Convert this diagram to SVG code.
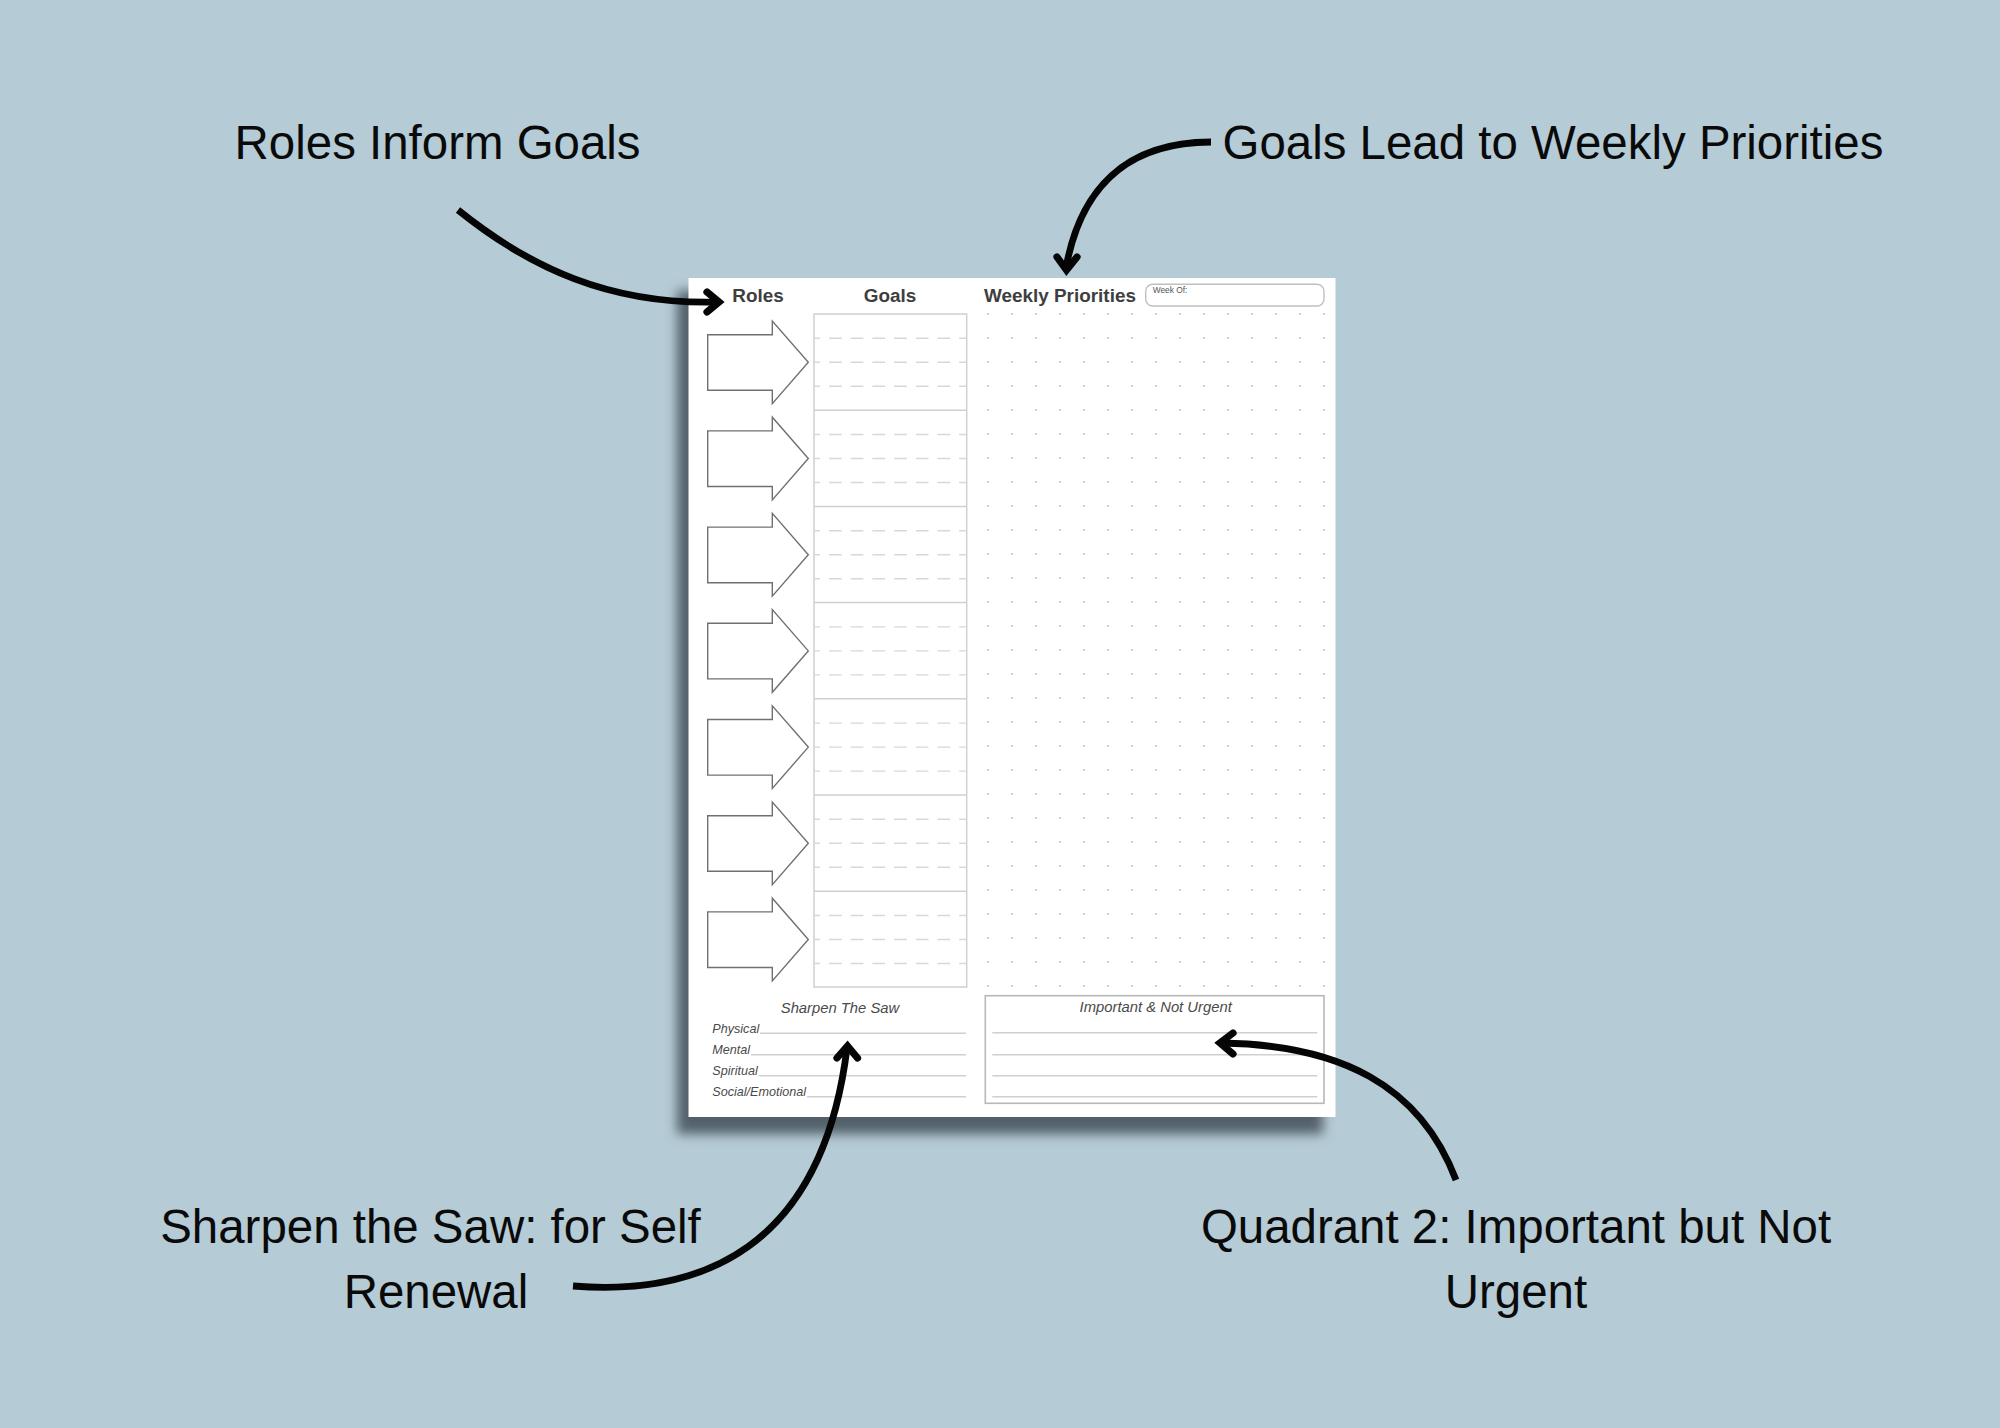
<svg xmlns="http://www.w3.org/2000/svg" xmlns:xlink="http://www.w3.org/1999/xlink" width="2000" height="1428" viewBox="0 0 2000 1428">
<style>
text{font-family:"Liberation Sans",Arial,sans-serif}
.big{font-size:47.45px;fill:#0a0a0a}
.head{font-size:18.9px;font-weight:700;fill:#3e3e3e}
.sub{font-size:14.8px;font-style:italic;fill:#4a4a4a}
.lab{font-size:12.6px;font-style:italic;fill:#4a4a4a}
.rule{stroke:#d0d0d0;stroke-width:1.4;fill:none}
.box{stroke:#d0d0d0;stroke-width:1.5;fill:none}
.dash{stroke:#d8d8d8;stroke-width:1.4;fill:none;stroke-dasharray:12.7 9;stroke-dashoffset:6.7}
.role{fill:#fff;stroke:#707070;stroke-width:1.4}
.conn{fill:none;stroke:#050505;stroke-width:6.8;stroke-linecap:butt}
.head-a{fill:none;stroke:#050505;stroke-width:7.2;stroke-linecap:round;stroke-linejoin:miter}
</style>
<defs>
<filter id="soft" x="-10%" y="-10%" width="120%" height="120%"><feGaussianBlur stdDeviation="6"/></filter>
<pattern id="dots" patternUnits="userSpaceOnUse" x="976" y="302" width="24" height="24"><circle cx="12" cy="12" r="1" fill="#c0c0c0"/></pattern>
<polygon id="roleArrow" class="role" points="707.7,334.7 772.3,334.7 772.3,321 808.3,362.3 772.3,403.7 772.3,390.3 707.7,390.3"/>
<g id="goalDashes"><path class="dash" d="M814 338.3H966.7"/><path class="dash" d="M814 362.3H966.7"/><path class="dash" d="M814 386.3H966.7"/></g>
</defs>
<rect id="background" width="2000" height="1428" fill="#b5cbd6"/>
<rect id="page-shadow" x="677" y="291" width="646" height="843" fill="#52616a" filter="url(#soft)"/>
<rect id="page" x="688.5" y="278" width="647" height="839" fill="#fff"/>

<g id="roles-column">
<text class="head" x="758" y="302.3" text-anchor="middle">Roles</text>
<use xlink:href="#roleArrow" href="#roleArrow"/>
<use xlink:href="#roleArrow" href="#roleArrow" y="96.2"/>
<use xlink:href="#roleArrow" href="#roleArrow" y="192.4"/>
<use xlink:href="#roleArrow" href="#roleArrow" y="288.6"/>
<use xlink:href="#roleArrow" href="#roleArrow" y="384.8"/>
<use xlink:href="#roleArrow" href="#roleArrow" y="481"/>
<use xlink:href="#roleArrow" href="#roleArrow" y="577.2"/>
</g>

<g id="goals-column">
<text class="head" x="890" y="302.3" text-anchor="middle">Goals</text>
<rect class="box" x="814" y="314" width="152.7" height="673"/>
<path class="box" d="M814 410.2H966.7M814 506.4H966.7M814 602.6H966.7M814 698.8H966.7M814 795H966.7M814 891.2H966.7"/>
<use xlink:href="#goalDashes" href="#goalDashes"/>
<use xlink:href="#goalDashes" href="#goalDashes" y="96.2"/>
<use xlink:href="#goalDashes" href="#goalDashes" y="192.4"/>
<use xlink:href="#goalDashes" href="#goalDashes" y="288.6"/>
<use xlink:href="#goalDashes" href="#goalDashes" y="384.8"/>
<use xlink:href="#goalDashes" href="#goalDashes" y="481"/>
<use xlink:href="#goalDashes" href="#goalDashes" y="577.2"/>
</g>

<g id="weekly-priorities">
<text class="head" x="984" y="302.3">Weekly Priorities</text>
<rect x="1145.7" y="284.3" width="178.3" height="21.7" rx="7" fill="#fff" stroke="#c0c0c0" stroke-width="1.4"/>
<text x="1152.7" y="293.4" font-size="8.4" fill="#555">Week Of:</text>
<rect x="982" y="308" width="348" height="684" fill="url(#dots)"/>
</g>

<g id="sharpen-the-saw">
<text class="sub" x="840" y="1012.6" text-anchor="middle">Sharpen The Saw</text>
<text class="lab" x="712.3" y="1033.4">Physical</text>
<text class="lab" x="712.3" y="1054.4">Mental</text>
<text class="lab" x="712.3" y="1075.4">Spiritual</text>
<text class="lab" x="712.3" y="1096.4">Social/Emotional</text>
<path class="rule" d="M760 1033.3H966M751 1054.7H966M758.7 1075.7H966M807 1096.7H966"/>
</g>

<g id="important-not-urgent">
<rect x="985.3" y="995.7" width="338.7" height="107.6" fill="#fff" stroke="#b8b8b8" stroke-width="1.6"/>
<text class="sub" x="1155.7" y="1012.4" text-anchor="middle">Important &amp; Not Urgent</text>
<path class="rule" d="M992.3 1032.7H1317.3M992.3 1054.7H1317.3M992.3 1075.7H1317.3M992.3 1096.7H1317.3"/>
</g>

<g id="connectors">
<path class="conn" d="M458 210C530 268 610 305 718 302"/>
<path class="head-a" d="M707 292L719 302L707 312"/>
<path class="conn" d="M1211 142C1125 142 1080 190 1066 268"/>
<path class="head-a" d="M1057 257L1066.5 270L1077 257"/>
<path class="conn" d="M573 1286C700 1296 822 1250 847 1048"/>
<path class="head-a" d="M837 1058L847.5 1046L857.5 1058"/>
<path class="conn" d="M1456 1180C1420 1085 1340 1045 1222 1043"/>
<path class="head-a" d="M1233 1033L1220 1043L1233 1054"/>
</g>

<g id="label-roles"><text class="big" x="234.6" y="158.6">Roles Inform Goals</text></g>
<g id="label-goals"><text class="big" x="1222.5" y="158.6">Goals Lead to Weekly Priorities</text></g>
<g id="label-saw"><text class="big" x="430.5" y="1243.3" text-anchor="middle">Sharpen the Saw: for Self</text><text class="big" x="436" y="1308.3" text-anchor="middle">Renewal</text></g>
<g id="label-quadrant"><text class="big" x="1516" y="1243.3" text-anchor="middle">Quadrant 2: Important but Not</text><text class="big" x="1516" y="1308.3" text-anchor="middle">Urgent</text></g>
</svg>
